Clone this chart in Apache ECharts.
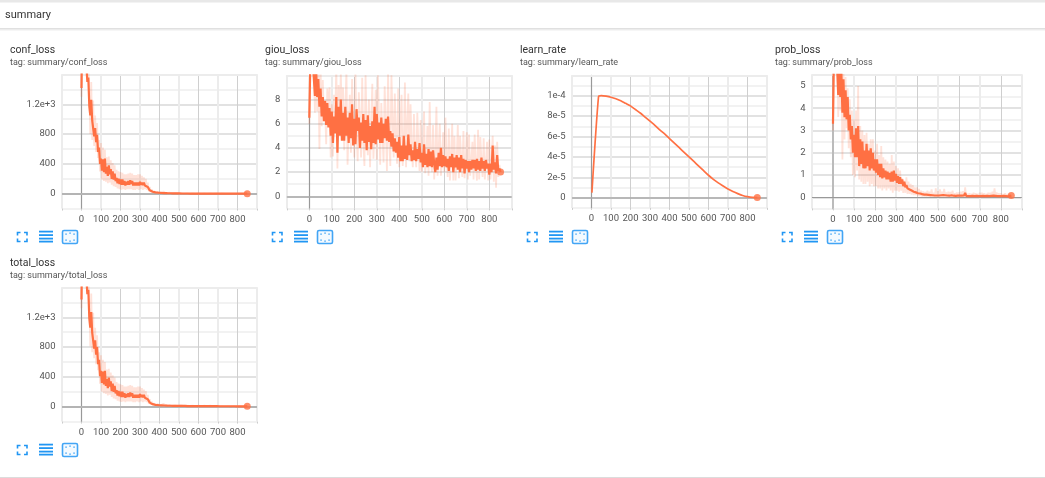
<!DOCTYPE html>
<html>
<head>
<meta charset="utf-8">
<style>html,body{margin:0;padding:0;background:#fff;overflow:hidden}#c{width:1045px;height:478px}</style>
<script src="https://cdn.jsdelivr.net/npm/echarts@6/dist/echarts.min.js"></script>
</head>
<body>
<div id="c"></div>
<script>
const pageTitle = 'summary';
const chartNames = ['conf_loss','giou_loss','learn_rate','prob_loss','total_loss'];
const xTickLabels = ['0','100','200','300','400','500','600','700','800'];

const confSmooth = [
1420,2600,3100,2900,2300,1720,1500,1560,1180,1050,
1260,980,1000,770,880,690,790,560,620,400,
470,310,460,290,470,270,360,240,380,260,
330,200,300,190,270,170,210,140,200,130,
190,120,190,120,170,110,160,120,170,120,
180,130,170,110,150,110,150,110,150,110,
160,120,150,115,150,110,130,110,90,65,
45,36,30,26,22,19,17,15,14,13,
12,11,10,10,9,9,8,8,7,7,
7,6,6,6,5,5,5,5,4,4,
4,4,4,3,3,3,3,3,3,3,
3,3,2,3,2,2,2,2,2,2,
2,2,2,2,2,2,2,2,2,2,
2,2,1,2,1,2,1,1,1,1,
1,1,1,1,1,1,1,1,1,1,
1,1,1,1,1,1,1,1,1,1,
1,1,1,1,1,1,1,1,1,1,
1];
const confRaw = [
1300,3300,3600,3400,2900,2200,1900,1700,1400,800,
1500,720,1250,640,1050,560,950,480,720,300,
680,190,620,170,590,160,490,140,500,150,
450,120,410,100,380,90,320,70,300,60,
290,55,280,60,260,50,260,60,270,60,
280,60,270,50,250,50,250,60,260,50,
260,60,240,50,220,60,200,50,150,30,
90,20,60,12,40,10,30,6,26,5,
28,6,22,5,30,6,18,4,14,4,
16,3,12,3,14,2,9,2,12,2,
8,1,7,1,6,1,5,1,5,1,
5,1,4,1,4,1,4,1,3,1,
4,1,3,1,3,1,3,1,3,1,
3,1,3,1,3,1,3,0,3,0,
2,0,2,0,3,0,2,0,2,0,
2,0,2,0,2,0,2,0,2,0,
2,0,2,0,2,0,2,0,2,0,
1];

const giouSmooth = [
6.5,11.5,12,11,9.8,8.3,10.6,8.2,9.7,7.4,
8.9,6.6,8.2,6.2,7.9,5.9,7.7,5.7,7.3,5.0,
7.0,4.4,6.6,5.2,8.2,3.6,7.4,5.0,8.0,4.6,
6.9,4.6,7.4,5.0,6.5,4.4,6.9,4.8,7.6,4.2,
6.4,4.3,7.2,5.4,6.5,4.0,6.1,4.6,6.8,4.4,
6.3,3.8,6.7,4.5,5.8,3.9,6.2,4.4,7.4,4.3,
6.8,4.7,6.1,4.4,6.5,4.4,6.0,4.8,6.4,4.6,
6.6,4.5,5.4,4.1,5.2,3.7,4.8,3.6,4.5,3.2,
4.9,2.9,4.2,2.9,5.0,3.1,4.2,3.0,5.1,3.4,
4.3,2.9,3.8,3.0,4.5,2.9,3.9,3.1,4.4,2.8,
3.6,2.4,4.3,2.6,3.5,2.4,3.9,2.5,3.7,2.4,
3.8,2.7,2.0,3.2,2.2,3.6,2.5,4.0,2.4,3.4,
2.5,3.3,2.4,3.1,2.1,3.3,2.4,3.5,2.0,3.2,
2.4,3.4,2.2,3.2,2.0,3.4,2.3,3.1,1.9,3.0,
2.3,2.9,2.0,2.9,2.2,3.0,2.3,3.0,2.1,3.1,
2.2,2.9,2.1,3.2,2.3,2.9,2.1,3.0,2.3,2.7,
1.8,2.7,2.0,4.2,2.2,2.8,1.9,3.4,2.1,2.3,
2.0];
const giouRaw = [
6.0,13,14,13,11,6.9,12.5,7,11.5,3.9,
10.7,5.8,9.6,6.2,7.4,4.3,8.9,7.0,9.0,3.2,
7.6,3.3,8.4,6.0,11,2.3,9.2,5.2,10.3,6.1,
9.0,3.8,7.2,10.4,2.6,5.9,8.4,3.6,9.7,6.0,
3.2,10.3,5.3,2.9,8.6,6.4,3.2,9.8,4.5,2.5,
10,5.8,3.4,8.0,2.4,6.2,9.3,3.1,5.6,8.8,
3.0,10,6.4,2.6,7.7,5.2,2.8,9.1,6.0,2.1,
10.2,4.6,2.5,10,6.5,3.2,8.5,5.1,2.7,8.9,
2.4,5.8,8.4,2.5,4.4,9.4,2.4,6.1,8.5,2.9,
7.6,4.0,2.4,6.8,3.6,2.4,6.9,4.2,2.1,6.3,
2.0,4.3,7.0,1.9,3.2,5.8,1.7,7.8,3.4,2.0,
5.9,1.4,3.4,7.4,1.7,4.0,6.0,1.7,3.0,5.3,
2.0,6.5,3.3,1.6,5.6,1.3,3.4,6.0,1.3,5.0,
1.3,3.0,5.9,1.5,5.0,3.2,1.6,5.4,1.5,2.9,
5.3,1.4,5.1,1.7,3.0,4.5,1.4,5.1,2.6,1.3,
5.5,1.4,4.9,3.0,1.6,4.8,1.4,2.8,4.5,1.3,
4.7,1.4,3.0,5.0,1.2,4.2,0.7,4.5,1.6,2.6,
2.0];

const lrSteps = [2,36,50,75,100,125,150,175,200,225,250,275,300,325,350,375,400,425,450,475,500,525,550,575,600,625,650,675,700,725,750,775,800,825,850];
const lrValues = [0.5e-5,9.9e-5,10e-5,9.95e-5,9.85e-5,9.7e-5,9.5e-5,9.25e-5,9e-5,8.65e-5,8.3e-5,7.9e-5,7.5e-5,7.1e-5,6.65e-5,6.25e-5,5.8e-5,5.35e-5,4.9e-5,4.45e-5,4e-5,3.55e-5,3.1e-5,2.65e-5,2.2e-5,1.8e-5,1.45e-5,1.15e-5,0.85e-5,0.6e-5,0.4e-5,0.22e-5,0.1e-5,0.03e-5,0.01e-5];

const probSmooth = [
3.3,6.8,7.2,6.5,5.8,4.6,6.4,4.5,5.6,3.8,
5.3,3.6,4.8,3.5,4.5,3.0,3.7,2.6,3.2,2.0,
2.8,1.8,3.1,1.8,3.2,1.4,2.6,1.5,2.5,1.3,
2.1,1.3,2.4,1.4,2.1,1.2,2.2,1.3,2.0,1.2,
1.7,1.1,1.7,1.0,1.5,0.9,1.5,0.85,1.3,0.9,
1.2,0.8,1.15,0.8,1.1,0.7,1.15,0.7,1.2,0.75,
1.05,0.65,0.95,0.6,0.9,0.6,0.8,0.5,0.7,0.45,
0.55,0.4,0.45,0.35,0.4,0.3,0.35,0.25,0.3,0.22,
0.28,0.18,0.22,0.17,0.2,0.14,0.18,0.12,0.16,0.12,
0.15,0.11,0.15,0.1,0.13,0.09,0.12,0.08,0.16,0.08,
0.14,0.08,0.15,0.09,0.13,0.1,0.16,0.09,0.13,0.08,
0.13,0.07,0.12,0.09,0.14,0.07,0.1,0.06,0.12,0.07,
0.11,0.07,0.12,0.07,0.13,0.08,0.2,0.06,0.09,0.05,
0.09,0.05,0.09,0.06,0.1,0.05,0.1,0.06,0.09,0.05,
0.1,0.05,0.11,0.06,0.1,0.05,0.09,0.06,0.11,0.05,
0.1,0.06,0.13,0.07,0.15,0.06,0.12,0.05,0.1,0.05,
0.1,0.05,0.09,0.06,0.1,0.05,0.08,0.04,0.09,0.06,
0.08];
const probRaw = [
3.0,8,8.5,7.5,6.9,3.6,7.0,3.9,6.4,1.7,
5.6,2.6,5.4,3.1,4.9,2.2,4.4,1.8,3.9,1.0,
3.5,0.9,3.9,1.2,5.0,0.8,3.2,0.7,3.0,0.6,
2.8,0.6,2.9,0.7,2.4,0.5,2.6,0.6,2.6,0.5,
2.1,0.5,2.4,0.4,1.9,0.4,2.3,0.3,1.8,0.4,
1.7,0.3,1.6,0.4,1.5,0.3,1.9,0.2,1.6,0.3,
1.4,0.3,1.3,0.25,1.2,0.3,0.85,0.2,0.75,0.2,
0.9,0.15,0.7,0.15,0.6,0.12,0.55,0.1,0.45,0.1,
0.45,0.05,0.38,0.05,0.3,0.03,0.26,0.03,0.24,0.02,
0.3,0.02,0.25,0.02,0.35,0.02,0.2,0.01,0.4,0.01,
0.28,0,0.35,0.01,0.25,0.01,0.38,0,0.22,0,
0.25,0,0.24,0.01,0.3,0,0.18,0,0.22,0,
0.22,0,0.25,0,0.28,0,0.45,0,0.16,0,
0.18,0,0.16,0,0.2,0,0.18,0,0.16,0,
0.2,0,0.2,0,0.18,0,0.16,0,0.2,0,
0.2,0,0.25,0,0.4,0,0.22,0,0.18,0,
0.18,0,0.15,0,0.18,0,0.14,0,0.16,0,
0.08];

const totalSmooth = [
1440,2620,3120,2910,2310,1730,1510,1570,1190,1060,
1270,990,1010,780,890,700,800,570,630,410,
480,320,470,300,480,280,370,250,390,270,
340,210,310,200,280,180,220,150,210,140,
200,130,200,130,180,120,170,130,180,130,
190,140,180,120,160,120,160,120,160,120,
170,130,160,125,160,120,140,120,100,75,
55,46,40,34,30,27,25,23,22,20,
20,19,18,17,16,16,15,15,14,14,
14,13,13,13,12,12,12,11,11,11,
11,11,10,10,10,10,10,9,9,9,
9,9,9,9,9,8,8,8,8,8,
8,8,8,8,8,8,7,7,7,7,
7,7,7,7,7,7,7,7,7,7,
6,6,6,6,6,6,6,6,6,6,
6,6,6,6,6,6,6,6,6,6,
5,6,5,6,5,6,5,6,5,5,
5];
const totalRaw = [
1320,3320,3620,3410,2920,2210,1920,1710,1410,810,
1520,730,1260,650,1060,570,960,490,730,310,
690,200,630,180,600,170,500,150,510,160,
460,130,420,110,390,100,330,80,310,70,
300,65,290,70,270,60,270,70,280,70,
290,70,280,60,260,60,260,70,270,60,
270,70,250,60,230,70,210,60,160,40,
100,30,70,22,50,18,40,16,36,15,
38,16,32,15,40,16,28,14,24,14,
26,13,22,13,24,12,19,12,22,12,
18,11,17,11,16,11,15,11,15,10,
15,10,14,10,14,10,14,9,13,9,
14,9,13,9,13,9,13,9,13,8,
13,8,13,8,13,8,12,8,12,7,
11,7,11,7,12,7,11,7,11,7,
11,6,11,6,11,6,11,6,11,6,
11,5,11,5,11,5,10,5,10,5,
5];

const steps = confSmooth.map((_, i) => i * 5);
const pairs = (xs, ys) => ys.map((y, i) => [xs[i], y]);

const yLabelsConf = {0:'0',400:'400',800:'800',1200:'1.2e+3'};
const yLabelsGiou = {0:'0',2:'2',4:'4',6:'6',8:'8'};
const yLabelsLr = {0:'0',2:'2e-5',4:'4e-5',6:'6e-5',8:'8e-5',10:'1e-4'};
const yLabelsProb = {0:'0',1:'1',2:'2',3:'3',4:'4',5:'5'};

const ORANGE = '#ff7043', BLUE = '#2196f3';
const layouts = [
 {name:'conf_loss',  ox:0,  oy:0,   left:62,  right:257,  top:74.5, bottom:208.6, ymin:-200, ymax:1600, yi:200, labels:yLabelsConf, scale:1, vz:{c:'#999',w:1.2}, hz:{c:'#b4b4b4',w:2}, smooth:confSmooth, raw:confRaw},
 {name:'giou_loss',  ox:255,oy:0,   left:286.8,right:511.8,top:75.3, bottom:208.4, ymin:-1, ymax:10, yi:1, labels:yLabelsGiou, scale:1, vz:{c:'#999',w:1.2}, hz:{c:'#aaa',w:1.5}, smooth:giouSmooth, raw:giouRaw},
 {name:'learn_rate', ox:510,oy:0,   left:572, right:767,  top:75.3, bottom:207.9, ymin:-1e-5, ymax:12e-5, yi:1e-5, labels:yLabelsLr, scale:1e5, vz:{c:'#999',w:1.2}, hz:{c:'#aaa',w:1.5}, xs:lrSteps, smooth:lrValues},
 {name:'prob_loss',  ox:765,oy:0,   left:812, right:1021.8,top:74.8,bottom:208.4, ymin:-0.5, ymax:5.5, yi:0.5, labels:yLabelsProb, scale:1, vz:{c:'#bbb',w:2}, hz:{c:'#999',w:1.2}, smooth:probSmooth, raw:probRaw},
 {name:'total_loss', ox:0,  oy:213, left:62,  right:257,  top:287.5,bottom:421.6, ymin:-200, ymax:1600, yi:200, labels:yLabelsConf, scale:1, vz:{c:'#999',w:1.2}, hz:{c:'#b4b4b4',w:2}, smooth:totalSmooth, raw:totalRaw}
];

const grids=[], xAxes=[], yAxes=[], series=[], titles=[], gfx=[];
const FONT = 'Roboto';

gfx.push({type:'rect',shape:{x:0,y:0,width:1045,height:2},style:{fill:'#e8e8e8'},silent:true});
gfx.push({type:'rect',shape:{x:0,y:2,width:1045,height:1},style:{fill:'#f3f3f3'},silent:true});
gfx.push({type:'rect',shape:{x:0,y:28,width:1045,height:1},style:{fill:'#e0e0e0'},silent:true});
gfx.push({type:'rect',shape:{x:0,y:29,width:1045,height:1},style:{fill:'#ececec'},silent:true});
gfx.push({type:'rect',shape:{x:0,y:30,width:1045,height:1},style:{fill:'#f6f6f6'},silent:true});
gfx.push({type:'rect',shape:{x:0,y:477,width:1045,height:1},style:{fill:'#dcdcdc'},silent:true});
titles.push({text:pageTitle,left:5,top:10,padding:0,textStyle:{fontFamily:FONT,fontSize:11,fontWeight:'normal',color:'#333'}});

function addIcons(ox, oy){
  const s = {stroke:BLUE,lineWidth:1.6,fill:null};
  const L = (pts)=>gfx.push({type:'polyline',shape:{points:pts.map(p=>[p[0]+ox,p[1]+oy])},style:s,silent:true});
  L([[17.5,235.5],[17.5,232.5],[20.5,232.5]]);
  L([[24,232.5],[27,232.5],[27,235.5]]);
  L([[17.5,238.5],[17.5,241.5],[20.5,241.5]]);
  L([[24,241.5],[27,241.5],[27,238.5]]);
  [231.5,235,238.5,241.5].forEach(y=>gfx.push({type:'rect',shape:{x:39+ox,y:y+oy-0.8,width:14,height:1.8},style:{fill:BLUE},silent:true}));
  gfx.push({type:'rect',shape:{x:62.5+ox,y:230.5+oy,width:15,height:13,r:1.5},style:{fill:'#f4faff',stroke:'#42a5f5',lineWidth:1.6},silent:true});
  [[66,234],[70,233],[74,234],[66,240],[70,241],[74,240]].forEach(p=>{
    gfx.push({type:'rect',shape:{x:p[0]+ox-0.6,y:p[1]+oy-0.6,width:1.3,height:1.3},style:{fill:BLUE},silent:true});
  });
}

layouts.forEach((c,i)=>{
  grids.push({left:c.left,top:c.top,width:c.right-c.left,height:c.bottom-c.top,containLabel:false});
  titles.push({text:c.name,left:10+c.ox,top:45+c.oy,padding:0,textStyle:{fontFamily:FONT,fontSize:10.5,fontWeight:'normal',color:'#333'}});
  titles.push({text:'tag: summary/'+c.name,left:10+c.ox,top:58+c.oy,padding:0,textStyle:{fontFamily:FONT,fontSize:9,fontWeight:'normal',color:'#555'}});
  const xBase = {type:'value',gridIndex:i,min:-100,max:900,interval:100};
  const xi0 = xAxes.length;
  xAxes.push(Object.assign({},xBase,{position:'top',axisLine:{show:true,onZero:false,lineStyle:{color:'#ececec',width:2}},axisTick:{show:false},axisLabel:{show:false},
    splitLine:{show:true,lineStyle:{color:['#ececec','transparent'],width:2}}}));
  xAxes.push(Object.assign({},xBase,{position:'bottom',axisLine:{show:false,onZero:false},axisTick:{show:true,length:2,lineStyle:{color:'#ccc'}},
    axisLabel:{show:true,margin:6,fontFamily:FONT,fontSize:9.5,color:'#555',formatter:v=>xTickLabels.includes(String(v))?String(v):''},
    splitLine:{show:true,lineStyle:{color:['transparent','#cfcfcf'],width:1}}}));
  const yi0 = yAxes.length;
  yAxes.push({type:'value',gridIndex:i,min:c.ymin,max:c.ymax,interval:c.yi,
    axisLine:{show:true,onZero:true,onZeroAxisIndex:xi0+1,lineStyle:{color:c.vz.c,width:c.vz.w}},axisTick:{show:false},
    axisLabel:{show:true,margin:6.5,fontFamily:FONT,fontSize:9.5,color:'#555',showMinLabel:true,showMaxLabel:true,
      formatter:v=>{const k=Math.round(v*c.scale*100)/100;return c.labels[k]!==undefined?c.labels[k]:'';}},
    splitLine:{show:true,lineStyle:{color:['#eeeeee','#d8d8d8'],width:1.5}}});
  const xs = c.xs||steps;
  if(c.raw){
    series.push({type:'line',xAxisIndex:xi0+1,yAxisIndex:yi0,data:pairs(xs,c.raw),showSymbol:false,symbol:'none',silent:true,animation:false,
      lineStyle:{color:ORANGE,width:1.8,opacity:0.2},z:3});
  }
  series.push({type:'line',xAxisIndex:xi0+1,yAxisIndex:yi0,data:pairs(xs,c.smooth),symbol:'none',silent:true,animation:false,smooth:c.raw?false:0.2,
    lineStyle:{color:ORANGE,width:c.raw?2.2:1.7},z:4,
    markLine:{silent:true,symbol:'none',animation:false,label:{show:false},z:2,lineStyle:{color:c.hz.c,width:c.hz.w,type:'solid'},data:[{yAxis:0}]}});
  series.push({type:'scatter',xAxisIndex:xi0+1,yAxisIndex:yi0,data:[[xs[xs.length-1],c.smooth[c.smooth.length-1]]],symbol:'circle',symbolSize:7,silent:true,animation:false,
    itemStyle:{color:ORANGE},z:5});
  addIcons(c.ox,c.oy);
});

const chart = echarts.init(document.getElementById('c'),null,{renderer:'canvas',width:1045,height:478});
chart.setOption({animation:false,backgroundColor:'#fff',title:titles,grid:grids,xAxis:xAxes,yAxis:yAxes,series:series,graphic:{elements:gfx},tooltip:{show:false}});
</script>
</body>
</html>
